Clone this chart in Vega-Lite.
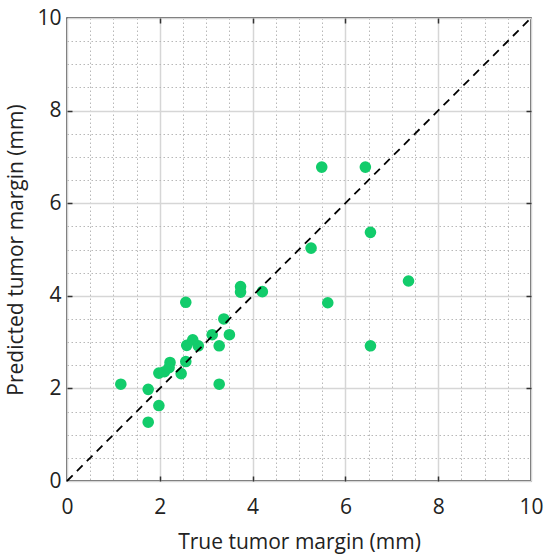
{
  "$schema": "https://vega.github.io/schema/vega-lite/v6.json",
  "autosize": {"type": "none"},
  "padding": {"left": 67, "top": 18, "right": 19, "bottom": 73},
  "width": 464,
  "height": 463,
  "background": "white",
  "config": {
    "view": {"stroke": "#333333", "strokeWidth": 1.5},
    "font": "Open Sans"
  },
  "layer": [
    {
      "data": {"values": [
        {"true": 1.16, "pred": 2.09},
        {"true": 1.75, "pred": 1.98},
        {"true": 1.75, "pred": 1.27},
        {"true": 1.98, "pred": 1.63},
        {"true": 1.98, "pred": 2.33},
        {"true": 2.1, "pred": 2.36},
        {"true": 2.22, "pred": 2.56},
        {"true": 2.2, "pred": 2.45},
        {"true": 2.46, "pred": 2.32},
        {"true": 2.56, "pred": 2.58},
        {"true": 2.58, "pred": 2.93},
        {"true": 2.71, "pred": 3.05},
        {"true": 2.83, "pred": 2.92},
        {"true": 2.56, "pred": 3.86},
        {"true": 3.13, "pred": 3.16},
        {"true": 3.28, "pred": 2.92},
        {"true": 3.28, "pred": 2.09},
        {"true": 3.5, "pred": 3.16},
        {"true": 3.38, "pred": 3.5},
        {"true": 3.74, "pred": 4.2},
        {"true": 3.74, "pred": 4.08},
        {"true": 4.21, "pred": 4.09},
        {"true": 5.49, "pred": 6.78},
        {"true": 6.43, "pred": 6.78},
        {"true": 6.54, "pred": 5.37},
        {"true": 5.26, "pred": 5.03},
        {"true": 7.36, "pred": 4.32},
        {"true": 5.62, "pred": 3.85},
        {"true": 6.54, "pred": 2.92}
      ]},
      "mark": {"type": "circle", "size": 135, "color": "#12cc6b", "opacity": 1},
      "encoding": {
        "x": {
          "field": "true", "type": "quantitative",
          "scale": {"domain": [0, 10], "nice": false, "zero": false},
          "axis": {
            "orient": "bottom",
            "title": "True tumor margin (mm)",
            "values": [0, 0.5, 1, 1.5, 2, 2.5, 3, 3.5, 4, 4.5, 5, 5.5, 6, 6.5, 7, 7.5, 8, 8.5, 9, 9.5, 10],
            "labelExpr": "datum.value % 2 === 0 ? format(datum.value, 'd') : ''",
            "labelFont": "Open Sans", "labelFontSize": 21, "labelColor": "#222222",
            "labelPadding": 20, "labelFlush": false, "labelOverlap": false,
            "titleFont": "Open Sans", "titleFontSize": 21, "titleFontWeight": "normal", "titleColor": "#222222",
            "titlePadding": 14,
            "domain": false,
            "tickSize": -5, "tickColor": "#333333", "tickWidth": 1.5,
            "tickOpacity": {"condition": {"test": "datum.value % 2 === 0 && datum.value > 0 && datum.value < 10", "value": 1}, "value": 0},
            "grid": true,
            "gridColor": {"condition": {"test": "datum.value % 2 === 0", "value": "#d6d6d6"}, "value": "#b8b8b8"},
            "gridWidth": {"condition": {"test": "datum.value % 2 === 0", "value": 1.5}, "value": 1},
            "gridDash": {"condition": {"test": "datum.value % 2 === 0", "value": []}, "value": [1.5, 2.5]}
          }
        },
        "y": {
          "field": "pred", "type": "quantitative",
          "scale": {"domain": [0, 10], "nice": false, "zero": false},
          "axis": {
            "orient": "left",
            "title": "Predicted tumor margin (mm)",
            "values": [0, 0.5, 1, 1.5, 2, 2.5, 3, 3.5, 4, 4.5, 5, 5.5, 6, 6.5, 7, 7.5, 8, 8.5, 9, 9.5, 10],
            "labelExpr": "datum.value % 2 === 0 ? format(datum.value, 'd') : ''",
            "labelFont": "Open Sans", "labelFontSize": 21, "labelColor": "#222222",
            "labelPadding": 11, "labelFlush": false, "labelOverlap": false,
            "titleFont": "Open Sans", "titleFontSize": 21, "titleFontWeight": "normal", "titleColor": "#222222",
            "titlePadding": 10,
            "domain": false,
            "tickSize": -5, "tickColor": "#333333", "tickWidth": 1.5,
            "tickOpacity": {"condition": {"test": "datum.value % 2 === 0 && datum.value > 0 && datum.value < 10", "value": 1}, "value": 0},
            "grid": true,
            "gridColor": {"condition": {"test": "datum.value % 2 === 0", "value": "#d6d6d6"}, "value": "#b8b8b8"},
            "gridWidth": {"condition": {"test": "datum.value % 2 === 0", "value": 1.5}, "value": 1},
            "gridDash": {"condition": {"test": "datum.value % 2 === 0", "value": []}, "value": [1.5, 2.5]}
          }
        }
      }
    },
    {
      "data": {"values": [
        {"true": 0, "pred": 0},
        {"true": 10, "pred": 10}
      ]},
      "mark": {"type": "line", "color": "black", "strokeWidth": 1.8, "strokeDash": [8, 6]},
      "encoding": {
        "x": {
          "field": "true", "type": "quantitative",
          "scale": {"domain": [0, 10], "nice": false, "zero": false},
          "axis": {"orient": "top", "title": null, "values": [2, 4, 6, 8], "labels": false, "grid": false, "domain": false, "tickSize": -5, "tickColor": "#333333", "tickWidth": 1.5}
        },
        "y": {
          "field": "pred", "type": "quantitative",
          "scale": {"domain": [0, 10], "nice": false, "zero": false},
          "axis": {"orient": "right", "title": null, "values": [2, 4, 6, 8], "labels": false, "grid": false, "domain": false, "tickSize": -5, "tickColor": "#333333", "tickWidth": 1.5}
        }
      }
    }
  ],
  "resolve": {"axis": {"x": "independent", "y": "independent"}}
}
